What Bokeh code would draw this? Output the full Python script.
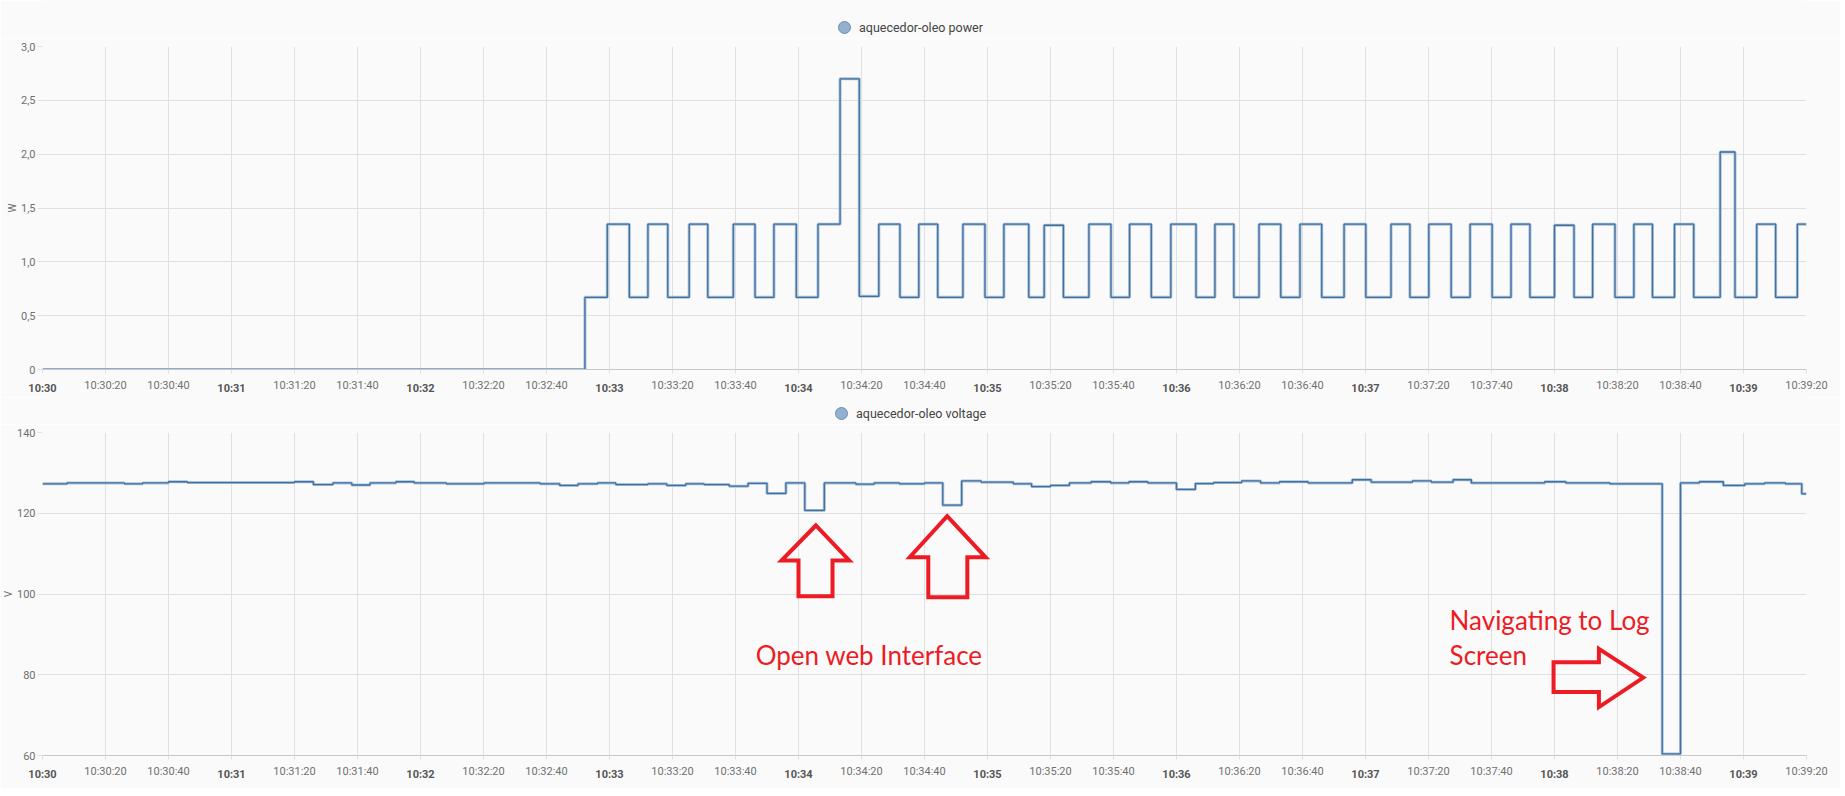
from bokeh.plotting import figure
from bokeh.models import (Range1d, FixedTicker, Label, PolyAnnotation, Legend,
                          LegendItem, LinearAxis, Title)
from bokeh.layouts import column
from bokeh.embed import file_html
from bokeh.resources import INLINE

# ---------------- data (seconds after 10:30:00) ----------------
power_t = [0, 172.2, 179.3, 186.3, 192.2, 198.5, 205.3, 211.2, 219.3, 226.2,
           232.2, 239.3, 246.2, 253.2, 259.3, 265.5, 272.2, 278.2, 284.2, 292.2,
           299.2, 305.2, 313.1, 318.0, 324.1, 332.2, 339.2, 345.1, 352.0, 358.2,
           366.2, 372.2, 378.2, 386.2, 393.1, 399.2, 406.1, 413.2, 420.1, 428.1,
           434.1, 440.1, 447.2, 453.2, 460.2, 466.2, 472.2, 480.0, 486.2, 492.1,
           499.2, 505.2, 511.1, 518.1, 524.2, 532.6, 537.3, 544.2, 550.2, 557.1,
           560]
power_w = [0, 0.67, 1.35, 0.67, 1.35, 0.67, 1.35, 0.67, 1.35, 0.67,
           1.35, 0.67, 1.35, 2.70, 0.68, 1.35, 0.67, 1.35, 0.67, 1.35,
           0.67, 1.35, 0.67, 1.34, 0.67, 1.35, 0.67, 1.35, 0.67, 1.35,
           0.67, 1.35, 0.67, 1.35, 0.67, 1.35, 0.67, 1.35, 0.67, 1.35,
           0.67, 1.35, 0.67, 1.35, 0.67, 1.35, 0.67, 1.34, 0.67, 1.35,
           0.67, 1.35, 0.67, 1.35, 0.67, 2.02, 0.67, 1.35, 0.67, 1.35,
           1.35]

volt_t = [0, 7.8, 26, 31.8, 40, 46, 80, 86, 92.2, 98.2,
          104, 112.2, 118, 128.2, 140.2, 158, 164.2, 170, 176.2, 182,
          192.2, 198.2, 204.2, 210, 218, 224, 230, 236, 242, 248.2,
          258.2, 264, 272, 280, 285.8, 291.8, 298, 308.2, 314, 320,
          326, 332.9, 339.1, 344.9, 350.9, 360, 366, 371.8, 380.7, 386.7,
          392.7, 401.8, 415.8, 421.8, 434.9, 440.9, 447.8, 453.6, 476.9, 483.6,
          497.6, 514.2, 520, 526, 533.6, 540.4, 546.7, 553.3, 558.5, 560]
volt_v = [127.3, 127.5, 127.3, 127.5, 127.8, 127.6, 127.8, 127.1, 127.5, 127.0,
          127.5, 127.8, 127.5, 127.3, 127.5, 127.3, 126.9, 127.3, 127.5, 127.1,
          127.3, 126.9, 127.3, 127.1, 126.7, 127.4, 124.9, 127.5, 120.7, 127.5,
          127.2, 127.5, 127.3, 127.5, 122.0, 128.0, 127.7, 127.3, 126.6, 126.9,
          127.5, 127.8, 127.5, 127.8, 127.5, 125.9, 127.35, 127.6, 128.0, 127.5,
          127.8, 127.5, 128.3, 127.7, 128.0, 127.7, 128.3, 127.5, 127.8, 127.5,
          127.3, 60.4, 127.5, 127.8, 126.9, 127.3, 127.5, 127.3, 124.8, 124.8]

x_ticks = list(range(0, 561, 20))
x_tick_labels = ["10:%02d" % (30 + t // 60) if t % 60 == 0
                 else "10:%02d:%02d" % (30 + t // 60, t % 60) for t in x_ticks]
power_ticks = [0, 0.5, 1.0, 1.5, 2.0, 2.5, 3.0]
power_tick_labels = ["0", "0,5", "1,0", "1,5", "2,0", "2,5", "3,0"]
volt_ticks = [60, 80, 100, 120, 140]
volt_tick_labels = ["60", "80", "100", "120", "140"]

power_name = "aquecedor-oleo power"
volt_name = "aquecedor-oleo voltage"

BG = "#FAFAFA"
GRID = "#E0E0E0"
TICK_FONT = "Roboto"
LINE_CORE = "#41709F"
LINE_HALO = "#A9C1DA"
RED = "#ED1C24"
W = 1840


def header(height, title, left):
    h = figure(width=W, height=height, x_range=Range1d(0, 1),
               y_range=Range1d(0, 1), output_backend="svg",
               toolbar_location=None, min_border=0,
               background_fill_color=BG, border_fill_color=BG)
    h.axis.visible = False
    h.grid.visible = False
    h.outline_line_color = None
    # swatch renderer kept outside the visible range: only its legend shows
    swatch = h.scatter(x=[-5], y=[-5], marker="circle", size=12,
                       fill_color="#94B0D0", line_color="#6A8DB4",
                       line_width=1)
    leg = Legend(items=[LegendItem(label=title, renderers=[swatch])],
                 location=(left, -4), orientation="horizontal",
                 border_line_color=None, background_fill_alpha=0,
                 label_text_font=TICK_FONT, label_text_font_size="12.5px",
                 label_text_color="#444444", glyph_width=30, glyph_height=30,
                 label_standoff=0, padding=2, margin=0, label_height=13)
    h.add_layout(leg)
    return h


def make_fig(height, y0, y1, yticks, ylabels, bottom, unit):
    p = figure(width=W, height=height, x_range=Range1d(0, 560),
               y_range=Range1d(y0, y1), output_backend="svg",
               toolbar_location=None, min_border_left=39, min_border_right=34,
               min_border_top=8, min_border_bottom=bottom,
               background_fill_color=BG, border_fill_color=BG)
    p.outline_line_color = None
    p.xgrid.ticker = FixedTicker(ticks=x_ticks)
    p.ygrid.ticker = FixedTicker(ticks=yticks)
    for g in (p.xgrid, p.ygrid):
        g.grid_line_color = GRID
        g.grid_line_width = 1
    # x axis: regular labels
    xa = p.xaxis[0]
    xa.ticker = FixedTicker(ticks=x_ticks)
    xa.major_label_overrides = {t: ("" if t % 60 == 0 else lab)
                                for t, lab in zip(x_ticks, x_tick_labels)}
    xa.axis_line_color = "#C8C8C8"
    xa.major_tick_line_color = GRID
    xa.major_tick_out = 4
    xa.major_tick_in = 0
    xa.minor_tick_line_color = None
    xa.major_label_standoff = 5
    xa.major_label_text_font = TICK_FONT
    xa.major_label_text_font_size = "11px"
    xa.major_label_text_color = "#707070"
    # second x axis: bold minute labels pulled up onto the same row
    minute_ticks = [t for t in x_ticks if t % 60 == 0]
    xb = LinearAxis(ticker=FixedTicker(ticks=minute_ticks),
                    major_label_overrides={t: lab for t, lab in
                                           zip(x_ticks, x_tick_labels)
                                           if t % 60 == 0},
                    axis_line_color=None, major_tick_line_color=None,
                    minor_tick_line_color=None, major_tick_out=0,
                    major_tick_in=0, major_label_standoff=-13,
                    major_label_text_font=TICK_FONT,
                    major_label_text_font_size="11px",
                    major_label_text_font_style="bold",
                    major_label_text_color="#555555")
    p.add_layout(xb, "below")
    # y axis
    ya = p.yaxis[0]
    ya.ticker = FixedTicker(ticks=yticks)
    ya.major_label_overrides = {t: lab for t, lab in zip(yticks, ylabels)}
    ya.axis_line_color = None
    ya.major_tick_line_color = GRID
    ya.major_tick_out = 5
    ya.major_tick_in = 0
    ya.minor_tick_line_color = None
    ya.major_label_standoff = 2
    ya.major_label_text_font = TICK_FONT
    ya.major_label_text_font_size = "11px"
    ya.major_label_text_color = "#707070"
    # unit shown as a side title at the far left edge
    p.add_layout(Title(text=unit, align="center", standoff=0, offset=0,
                       text_font=TICK_FONT, text_font_size="10px",
                       text_font_style="normal", text_color="#707070"),
                 "left")
    return p


h1 = header(38, power_name, 787)
p1 = make_fig(359, 0, 3, power_ticks, power_tick_labels, 28, "W")
p1.step(power_t, power_w, mode="after", line_color=LINE_HALO, line_width=3)
p1.step(power_t, power_w, mode="after", line_color=LINE_CORE, line_width=1.3)

h2 = header(27, volt_name, 784)
p2 = make_fig(364, 60, 140, volt_ticks, volt_tick_labels, 33, "V")
p2.step(volt_t, volt_v, mode="after", line_color=LINE_HALO, line_width=3)
p2.step(volt_t, volt_v, mode="after", line_color=LINE_CORE, line_width=1.3)

# ---------------- hand-drawn annotations (red) ----------------
def outline(xs, ys):
    return PolyAnnotation(xs=xs, ys=ys, fill_alpha=0, line_color=RED,
                          line_alpha=1, line_width=4, line_join="miter")


def up_arrow(tip_t, tip_v, head_l, head_r, head_v, sh_l, sh_r, bot_v):
    return outline([tip_t, head_r, sh_r, sh_r, sh_l, sh_l, head_l],
                   [tip_v, head_v, head_v, bot_v, bot_v, head_v, head_v])

p2.add_layout(up_arrow(245.5, 116.97, 234.6, 256.1, 108.3, 240.0, 250.8, 99.45))
p2.add_layout(up_arrow(287.2, 119.27, 275.3, 299.4, 109.1, 281.2, 293.6, 99.2))
p2.add_layout(outline([508.2, 494.1, 494.1, 479.7, 479.7, 494.1, 494.1],
                      [79.3, 86.4, 83.1, 83.1, 75.7, 75.7, 72.0]))

note_font = "Lato"
for txt, tx, ty in (("Open web Interface", 226.4, 84.77),
                    ("Navigating to Log", 446.7, 93.6),
                    ("Screen", 446.7, 85.0)):
    p2.add_layout(Label(x=tx, y=ty, text=txt, text_font=note_font,
                        text_font_size="26px", text_color=RED,
                        text_baseline="alphabetic"))

layout = column(h1, p1, h2, p2, spacing=0)
open("out.html", "w").write(file_html(layout, INLINE))
